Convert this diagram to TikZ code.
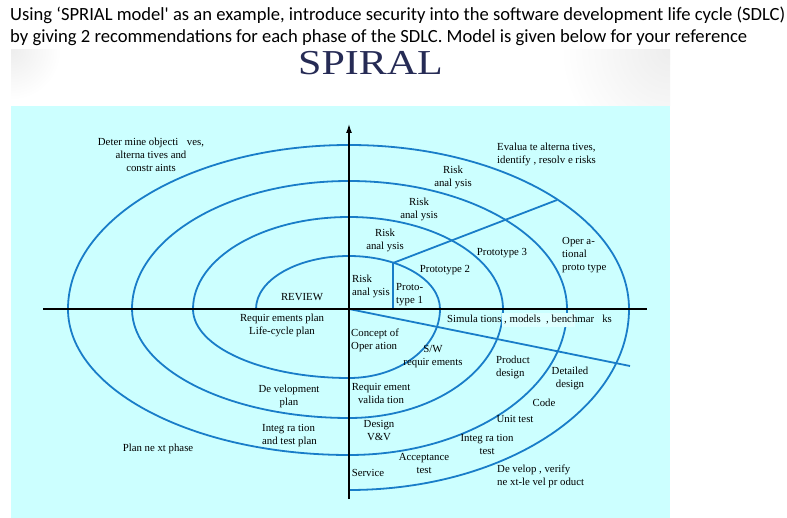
\documentclass[tikz,border=0pt]{standalone}
\usepackage{fontspec}
\setmainfont{Liberation Serif}
\newfontfamily\calibri{Carlito}
\usetikzlibrary{arrows.meta}
\definecolor{panelcyan}{RGB}{204,255,255}
\definecolor{spiralblue}{RGB}{25,125,200}
\definecolor{titleblue}{RGB}{38,43,85}
\begin{document}
\begin{tikzpicture}[x=1pt,y=-1pt,
    spiral/.style={spiralblue,line width=1.8pt},
    axis/.style={black,line width=1.3pt},
    lbl/.style={font=\fontsize{10.8}{13}\selectfont,inner sep=0pt,align=center},
    lbll/.style={lbl,align=left,anchor=west}]
    \fill[white] (0,0) rectangle (787,518);
    \useasboundingbox (0,0) rectangle (787,518);
    % question text above the picture
    \node[font=\calibri\fontsize{18.6}{22}\selectfont,anchor=north west,align=left,inner sep=0pt] (question) at (10,7)
        {Using ‘SPRIAL model' as an example, introduce security into the software development life cycle (SDLC)\\
         by giving 2 recommendations for each phase of the SDLC. Model is given below for your reference};
    % title strip, faint grey in the corners
    \begin{scope}
        \clip (11,50) rectangle (670,106);
        \shade[inner color=black!7,outer color=white] (11,50) circle (50);
        \shade[inner color=black!7,outer color=white] (670,50) circle (110);
    \end{scope}
    \node[font=\fontsize{35}{35}\selectfont,text=titleblue,anchor=base,inner sep=0pt] (title) at (370.5,75) {\scalebox{1.2}[1]{SPIRAL}};
    % the cyan panel
    \fill[panelcyan] (11,106) rectangle (670,518);
    \coordinate (O) at (349,309);
    \coordinate (hleft) at (43,309);
    \coordinate (hright) at (647,309);
    \coordinate (vtop) at (349,124);
    \coordinate (vbot) at (349,499);
    % the spiral, one quarter ellipse at a time
    \draw[spiral] (256,309) \foreach \a/\rx/\ry in {180/93/53, 270/91/53, 0/91/69, 90/156/69,
        180/156/92, 270/154/92, 0/154/109, 90/217/109, 180/217/128, 270/218/128,
        0/218/146, 90/281/146, 180/281/164, 270/280/164, 0/280/181}
        {arc[start angle=\a,delta angle=90,x radius=\rx,y radius=\ry]};
    % prototype dividers
    \coordinate (p1top) at (393,263);
    \coordinate (p1bot) at (393,309);
    \coordinate (pend) at (557,200);
    \coordinate (send) at (630,366);
    \draw[spiral] (p1bot) -- (p1top) -- (pend);
    \draw[spiral] (O) -- (send);
    % axes
    \draw[axis] (hleft) -- (hright);
    \draw[axis,-{Latex[length=9pt,width=6pt]}] (vbot) -- (vtop);
    % light patch behind the simulations label
    \fill[white!35!panelcyan] (502,313) rectangle (575,327);
    % labels
    \node[lbl] (objectives) at (151,155) {Deter mine objecti\hspace{0.8em}ves,\\alterna tives and\\constr aints};
    \node[lbl] (review) at (302,297) {REVIEW};
    \node[lbll] (evaluate) at (497,154.5) {Evalua te alterna tives,\\identify , resolv e risks};
    \node[lbl] (riskd) at (453,177.5) {Risk\\anal ysis};
    \node[lbl] (riskc) at (419,209) {Risk\\anal ysis};
    \node[lbl] (riskb) at (385,240) {Risk\\anal ysis};
    \node[lbll] (riska) at (352,286) {Risk\\anal ysis};
    \node[lbll] (protoa) at (396,294.5) {Proto-\\type 1};
    \node[lbl] (protob) at (445,270) {Prototype 2};
    \node[lbl] (protoc) at (502,253) {Prototype 3};
    \node[lbll] (operational) at (562,255.5) {Oper a-\\tional\\proto type};
    \node[lbll] (simulations) at (447,320) {Simula tions , models\ \ , benchmar\ \ \ ks};
    \node[lbll] (concept) at (351,340) {Concept of\\Oper ation};
    \node[lbl] (swreq) at (433,356.5) {S/W\\requir ements};
    \node[lbll] (product) at (496,367.5) {Product\\design};
    \node[lbl] (detailed) at (570,378) {Detailed\\design};
    \node[lbl] (code) at (544,403) {Code};
    \node[lbl] (unit) at (515,419) {Unit test};
    \node[lbl] (reqval) at (381,393) {Requir ement\\valida tion};
    \node[lbl] (design) at (379,430.5) {Design\\V\&V};
    \node[lbl] (integtest) at (487,444.5) {Integ ra tion\\test};
    \node[lbl] (accept) at (424,463) {Acceptance\\test};
    \node[lbl] (service) at (368,473) {Service};
    \node[lbll] (develop) at (497,476.5) {De velop , verify\\ne xt-le vel pr oduct};
    \node[lbl] (reqplan) at (282,325) {Requir ements plan\\Life-cycle plan};
    \node[lbl] (devplan) at (289,396.5) {De velopment\\plan};
    \node[lbll] (integplan) at (262,435.5) {Integ ra tion\\and test plan};
    \node[lbl] (plannext) at (158,449) {Plan ne xt phase};
\end{tikzpicture}
\end{document}
